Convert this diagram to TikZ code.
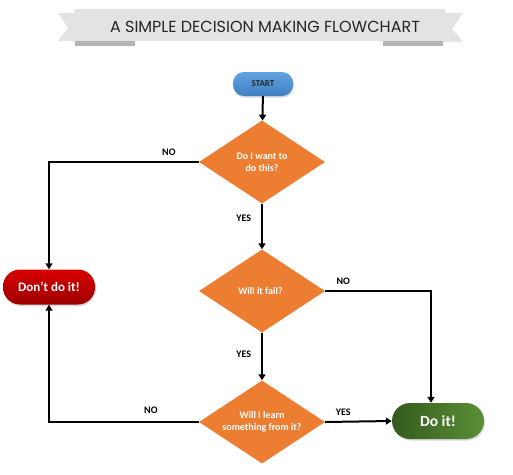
\documentclass[tikz,border=0pt]{standalone}
\usepackage{fontspec}
\setmainfont{Carlito}
\newfontfamily\titlefont{Poppins}
\usetikzlibrary{shapes.geometric,arrows.meta,shadows}
\definecolor{ribbon}{HTML}{E3E3E3}
\definecolor{ribbonfold}{HTML}{B4B4B4}
\definecolor{decision}{HTML}{ED7D31}
\definecolor{startblue}{HTML}{62A3DF}
\definecolor{startdark}{HTML}{3F7FC2}
\definecolor{nored}{HTML}{D80000}
\definecolor{nodark}{HTML}{9E0000}
\definecolor{yesgreen}{HTML}{5A8F36}
\definecolor{yesdark}{HTML}{345A1D}

\begin{document}
\begin{tikzpicture}[x=1pt, y=-1pt,
		question/.style={diamond, fill=decision, text=white, font=\bfseries\fontsize{10}{12}\selectfont,
			align=center, shape aspect=1.52, minimum width=126pt, minimum height=83pt, inner sep=0pt},
		terminal/.style={rectangle, draw=none, text=white, font=\bfseries,
			drop shadow={opacity=0.3, shadow xshift=1pt, shadow yshift=-1.5pt}},
		answer/.style={font=\bfseries\fontsize{10}{12}\selectfont, inner sep=2pt},
		flow/.style={line width=2pt, -{Triangle[length=6pt, width=7pt]}}]
	\useasboundingbox (0,0) rectangle (513,474);

	% title ribbon
	\fill[ribbon] (58,13) -- (80,13) -- (80,41) -- (58,41) -- (68,28) -- cycle;
	\fill[ribbon] (440,13) -- (463,13) -- (452,29) -- (463,42) -- (440,42) -- cycle;
	\fill[ribbonfold] (75,41) rectangle (135,46);
	\fill[ribbonfold] (383,41) rectangle (443,46);
	\fill[ribbon] (74,9) rectangle (445,41);
	\node[font=\titlefont\fontsize{16}{18}\selectfont, text=black!85] (Title) at (265,27) {A SIMPLE DECISION MAKING FLOWCHART};

	% boxes
        \node[terminal, rounded corners=11pt, minimum width=60pt, minimum height=24pt, text=black!85,
        	top color=startblue, bottom color=startdark, font=\bfseries\fontsize{9}{11}\selectfont] (Start) at (263,84) {
        	START
        };
        \node[question] (Want) at (262,162) {
        	Do I want to\\do this?
        };
        \node[question] (Fail) at (262,291) {
        	Will it fail?
        };
        \node[question] (Learn) at (262,422) {
        	Will I learn\\something from it?
        };
        \node[terminal, rounded corners=17pt, minimum width=92pt, minimum height=35pt,
        	top color=nored, bottom color=nodark, font=\bfseries\fontsize{13}{15}\selectfont] (DontDoIt) at (49,287) {
        	Don't do it!
        };
        \node[terminal, rounded corners=18pt, minimum width=92pt, minimum height=36pt,
        	left color=yesdark, right color=yesgreen, font=\bfseries\fontsize{15.5}{17}\selectfont] (DoIt) at (438,421) {
        	Do it!
        };

	% connectors
        \draw[flow] (Start) -- (Want);
        \draw[flow] (Want.west) -| node[answer, pos=0.1, above=3pt] {NO} (DontDoIt.north);
        \draw[flow] (Want) -- node[answer, pos=0.33, left=8pt] {YES} (Fail);
        \draw[flow] (Fail.east) -| node[answer, pos=0.085, above=3pt] {NO} ([xshift=-7pt]DoIt.north);
        \draw[flow] (Fail) -- node[answer, pos=0.45, left=8pt] {YES} (Learn);
        \draw[flow] (Learn.east) -- node[answer, pos=0.27, above=3pt] {YES} (DoIt.west);
        \draw[flow] (Learn.west) -| node[answer, pos=0.16, above=5pt] {NO} (DontDoIt.south);
\end{tikzpicture}
\end{document}
